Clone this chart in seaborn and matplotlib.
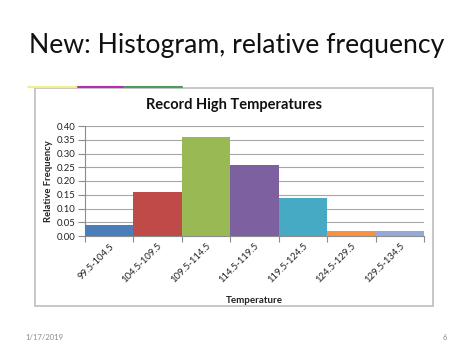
import matplotlib
matplotlib.use("Agg")
import matplotlib.pyplot as plt
import seaborn as sns
import pandas as pd
from matplotlib.patches import Rectangle
from matplotlib.lines import Line2D

categories = ["99.5-104.5", "104.5-109.5", "109.5-114.5", "114.5-119.5",
              "119.5-124.5", "124.5-129.5", "129.5-134.5"]
rel_freq = [0.04, 0.16, 0.36, 0.26, 0.14, 0.02, 0.02]
colors = ["#4A7EBB", "#BE4B48", "#98B954", "#7D60A0", "#46AAC5", "#F69240", "#93A9D8"]
y_ticks = [0.00, 0.05, 0.10, 0.15, 0.20, 0.25, 0.30, 0.35, 0.40]

sns.set_theme(style="white")
plt.rcParams["font.family"] = ["Lato", "DejaVu Sans"]

W, H = 474, 355
fig = plt.figure(figsize=(W / 100, H / 100), dpi=100)
fig.patch.set_facecolor("white")

def fx(x):
    return x / W

def fy(y):
    return 1 - y / H

# slide title
fig.text(fx(237), fy(46), "New: Histogram, relative frequency", ha="center", va="center",
         fontsize=19.2, color="#111111")

# decorative top lines
for x0, x1, c in [(28, 78, "#F2F08A"), (78, 124, "#B030B0"), (124, 182, "#4E9A5A")]:
    fig.add_artist(Line2D([fx(x0), fx(x1)], [fy(87), fy(87)], color=c, lw=1.5,
                          transform=fig.transFigure))

# chart frame
fig.add_artist(Rectangle((fx(35), fy(306)), fx(433) - fx(35), fy(88) - fy(306),
                         transform=fig.transFigure, facecolor="white",
                         edgecolor="#BEBEBE", lw=1.2, zorder=0))

ax = fig.add_axes([fx(85), fy(236), fx(424) - fx(85), fy(126) - fy(236)])
df = pd.DataFrame({"Temperature": categories, "Relative Frequency": rel_freq})
sns.barplot(data=df, x="Temperature", y="Relative Frequency", hue="Temperature",
            palette=colors, width=1.0, legend=False, ax=ax, saturation=1,
            linewidth=0, zorder=3)
ax.set_xlim(-0.5, len(categories) - 0.5)
ax.set_ylim(0, 0.40)
ax.set_yticks(y_ticks)
ax.set_yticklabels([f"{t:.2f}" for t in y_ticks], fontsize=6.8, color="#222222")
ax.yaxis.grid(True, color="#A6A6A6", lw=0.8, zorder=0)
ax.set_axisbelow(True)
for s in ["top", "right"]:
    ax.spines[s].set_visible(False)
ax.spines["left"].set_color("#8C8C8C")
ax.spines["bottom"].set_color("#8C8C8C")
ax.spines["left"].set_linewidth(0.8)
ax.spines["bottom"].set_linewidth(0.8)
ax.tick_params(axis="y", length=5, width=0.8, color="#8C8C8C", pad=2, left=True)

# x ticks at boundaries, labels at centers
ax.set_xticks([i - 0.5 for i in range(len(categories) + 1)], minor=False)
ax.set_xticklabels([])
ax.tick_params(axis="x", which="major", length=4, width=0.8, color="#8C8C8C", bottom=True)
ax.set_xticks(range(len(categories)), minor=True)
ax.set_xticklabels(categories, minor=True, rotation=45, ha="right",
                   rotation_mode="anchor", fontsize=6.8, color="#222222")
ax.tick_params(axis="x", which="minor", length=0, pad=4)

ax.set_xlabel("Temperature", fontsize=7, fontweight="bold", color="#222222", labelpad=6)
ax.set_ylabel("Relative Frequency", fontsize=6.8, fontweight="bold", color="#222222", labelpad=3)
ax.xaxis.set_label_coords(0.5, (fy(296) - fy(236)) / (fy(126) - fy(236)))
ax.yaxis.set_label_coords((fx(53) - fx(85)) / (fx(424) - fx(85)), 0.5)

fig.text(fx(234), fy(105), "Record High Temperatures", ha="center", va="center",
         fontsize=10.5, fontweight="bold", color="#111111")

# footer
fig.text(fx(25), fy(338), "1/17/2019", ha="left", va="center", fontsize=5.5, color="#8A8A8A")
fig.text(fx(447), fy(338), "6", ha="right", va="center", fontsize=5.5, color="#8A8A8A")

fig.savefig("out.png", dpi=100)
